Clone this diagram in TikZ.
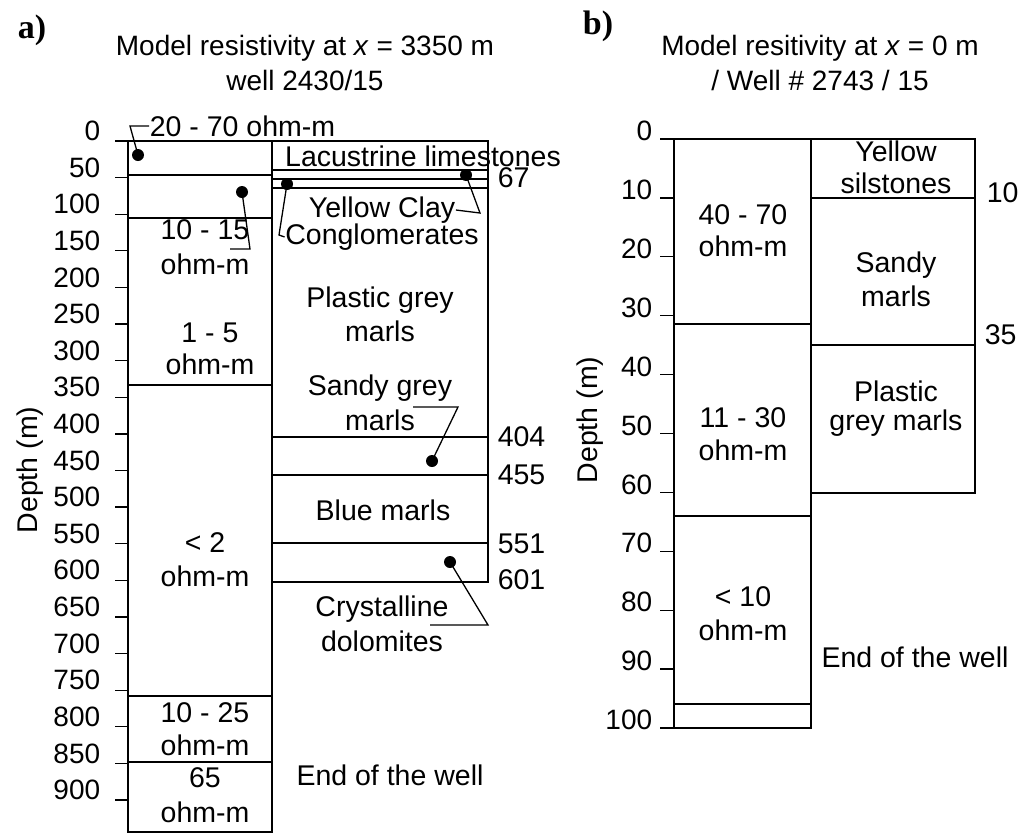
\documentclass[tikz,border=0pt]{standalone}
\usepackage{fontspec}
\setmainfont{Liberation Sans}
\newfontfamily\serifb{Liberation Serif}
\begin{document}
\begin{tikzpicture}[x=1pt,y=-1pt,line width=1.6pt,
 txt/.style={font=\fontsize{28.5}{32}\selectfont,inner sep=0pt},
 ttl/.style={font=\fontsize{28}{32}\selectfont,inner sep=0pt},
 tlab/.style={font=\fontsize{28}{32}\selectfont,inner sep=0pt,anchor=east},
 dotm/.style={circle,fill=black,inner sep=0pt,minimum size=12pt},
 lead/.style={line width=1.3pt}]
\useasboundingbox (0,0) rectangle (1031,838);
% panel labels and titles
\node[font=\serifb\bfseries\fontsize{34}{36}\selectfont] (la) at (32,30) {a)};
\node[font=\serifb\bfseries\fontsize{34}{36}\selectfont] (lb) at (598,26) {b)};
\node[ttl] (ta1) at (305,48) {Model resistivity at \textit{x} = 3350 m};
\node[ttl] (ta2) at (305,80) {well 2430/15};
\node[ttl] (tb1) at (820,48) {Model resitivity at \textit{x} = 0 m};
\node[ttl] (tb2) at (820,80) {/ Well \# 2743 / 15};
% ===== panel a =====
\node[txt,rotate=90] (da) at (30,470) {Depth (m)};
\foreach \d in {0,50,...,900}{
  \draw[line width=1.3pt] (115,{141+\d*0.7322}) -- (128,{141+\d*0.7322});
  \node[tlab] at (101,{131+\d*0.7322}) {\d};
}
\draw (128,141) rectangle (272,832);
\draw (272,141) rectangle (488,582);
\foreach \y in {175,218,385,696,762} \draw (128,\y) -- (272,\y);
\foreach \y in {170,179,188,437,475,543} \draw (272,\y) -- (488,\y);
\node[txt] (r1) at (205,230) {10 - 15};
\node[txt] at (205,264) {ohm-m};
\node[txt] (r2) at (210,333) {1 - 5};
\node[txt] at (210,364) {ohm-m};
\node[txt] at (205,543) {< 2};
\node[txt] at (205,576) {ohm-m};
\node[txt] at (205,713) {10 - 25};
\node[txt] at (205,745) {ohm-m};
\node[txt] at (205,778) {65};
\node[txt] at (205,812) {ohm-m};
\node[txt,anchor=west] (r0) at (149,126) {20 - 70 ohm-m};
\node[txt] at (423,156) {Lacustrine limestones};
\node[txt] (yc) at (382,210) {Yellow Clay};
\node[txt] (cg) at (382,237) {Conglomerates};
\node[txt] at (380,300) {Plastic grey};
\node[txt] at (380,331) {marls};
\node[txt] (sg) at (380,388) {Sandy grey};
\node[txt] at (380,420) {marls};
\node[txt] at (383,510) {Blue marls};
\node[txt] (cd) at (382,609) {Crystalline};
\node[txt] at (382,641) {dolomites};
\node[txt] at (390,775) {End of the well};
\node[txt,anchor=west] at (497,178) {67};
\node[txt,anchor=west] at (497,437) {404};
\node[txt,anchor=west] at (497,475) {455};
\node[txt,anchor=west] at (497,544) {551};
\node[txt,anchor=west] at (497,580) {601};
% dots and leaders
\node[dotm] (d1) at (138,155) {};
\node[dotm] (d2) at (242,192) {};
\node[dotm] (d3) at (287,184) {};
\node[dotm] (d4) at (466,175) {};
\node[dotm] (d5) at (432,461) {};
\node[dotm] (d6) at (450,562) {};
\draw[lead] (d1.center) -- (130,126) -- (r0.west);
\draw[lead] (d2.center) -- (250,249) -- (230,249);
\draw[lead] (d3.center) -- (279,235) -- (cg.west);
\draw[lead] (d4.center) -- (480,213) -- (yc.east);
\draw[lead] (d5.center) -- (458,407) -- (413,407);
\draw[lead] (d6.center) -- (488,625) -- (430,625);
% ===== panel b =====
\node[txt,rotate=90] (db) at (590,420) {Depth (m)};
\foreach \d in {0,10,...,100}{
  \draw[line width=1.3pt] (660,{139+\d*5.89}) -- (674,{139+\d*5.89});
  \node[tlab] at (653,{131+\d*5.89}) {\d};
}
\draw (674,139) rectangle (811,728);
\draw (811,139) rectangle (975,493);
\foreach \y in {324,516,704} \draw (674,\y) -- (811,\y);
\foreach \y in {198,345} \draw (811,\y) -- (975,\y);
\node[txt] at (743,215) {40 - 70};
\node[txt] at (743,246) {ohm-m};
\node[txt] at (743,418) {11 - 30};
\node[txt] at (743,450) {ohm-m};
\node[txt] at (743,597) {< 10};
\node[txt] at (743,630) {ohm-m};
\node[txt] at (896,151) {Yellow};
\node[txt] at (896,183) {silstones};
\node[txt] at (896,265) {Sandy};
\node[txt] at (896,296) {marls};
\node[txt] at (896,391) {Plastic};
\node[txt] at (896,423) {grey marls};
\node[txt] at (915,657) {End of the well};
\node[txt,anchor=west] at (986,193) {10};
\node[txt,anchor=west] at (984,335) {35};
\end{tikzpicture}
\end{document}
